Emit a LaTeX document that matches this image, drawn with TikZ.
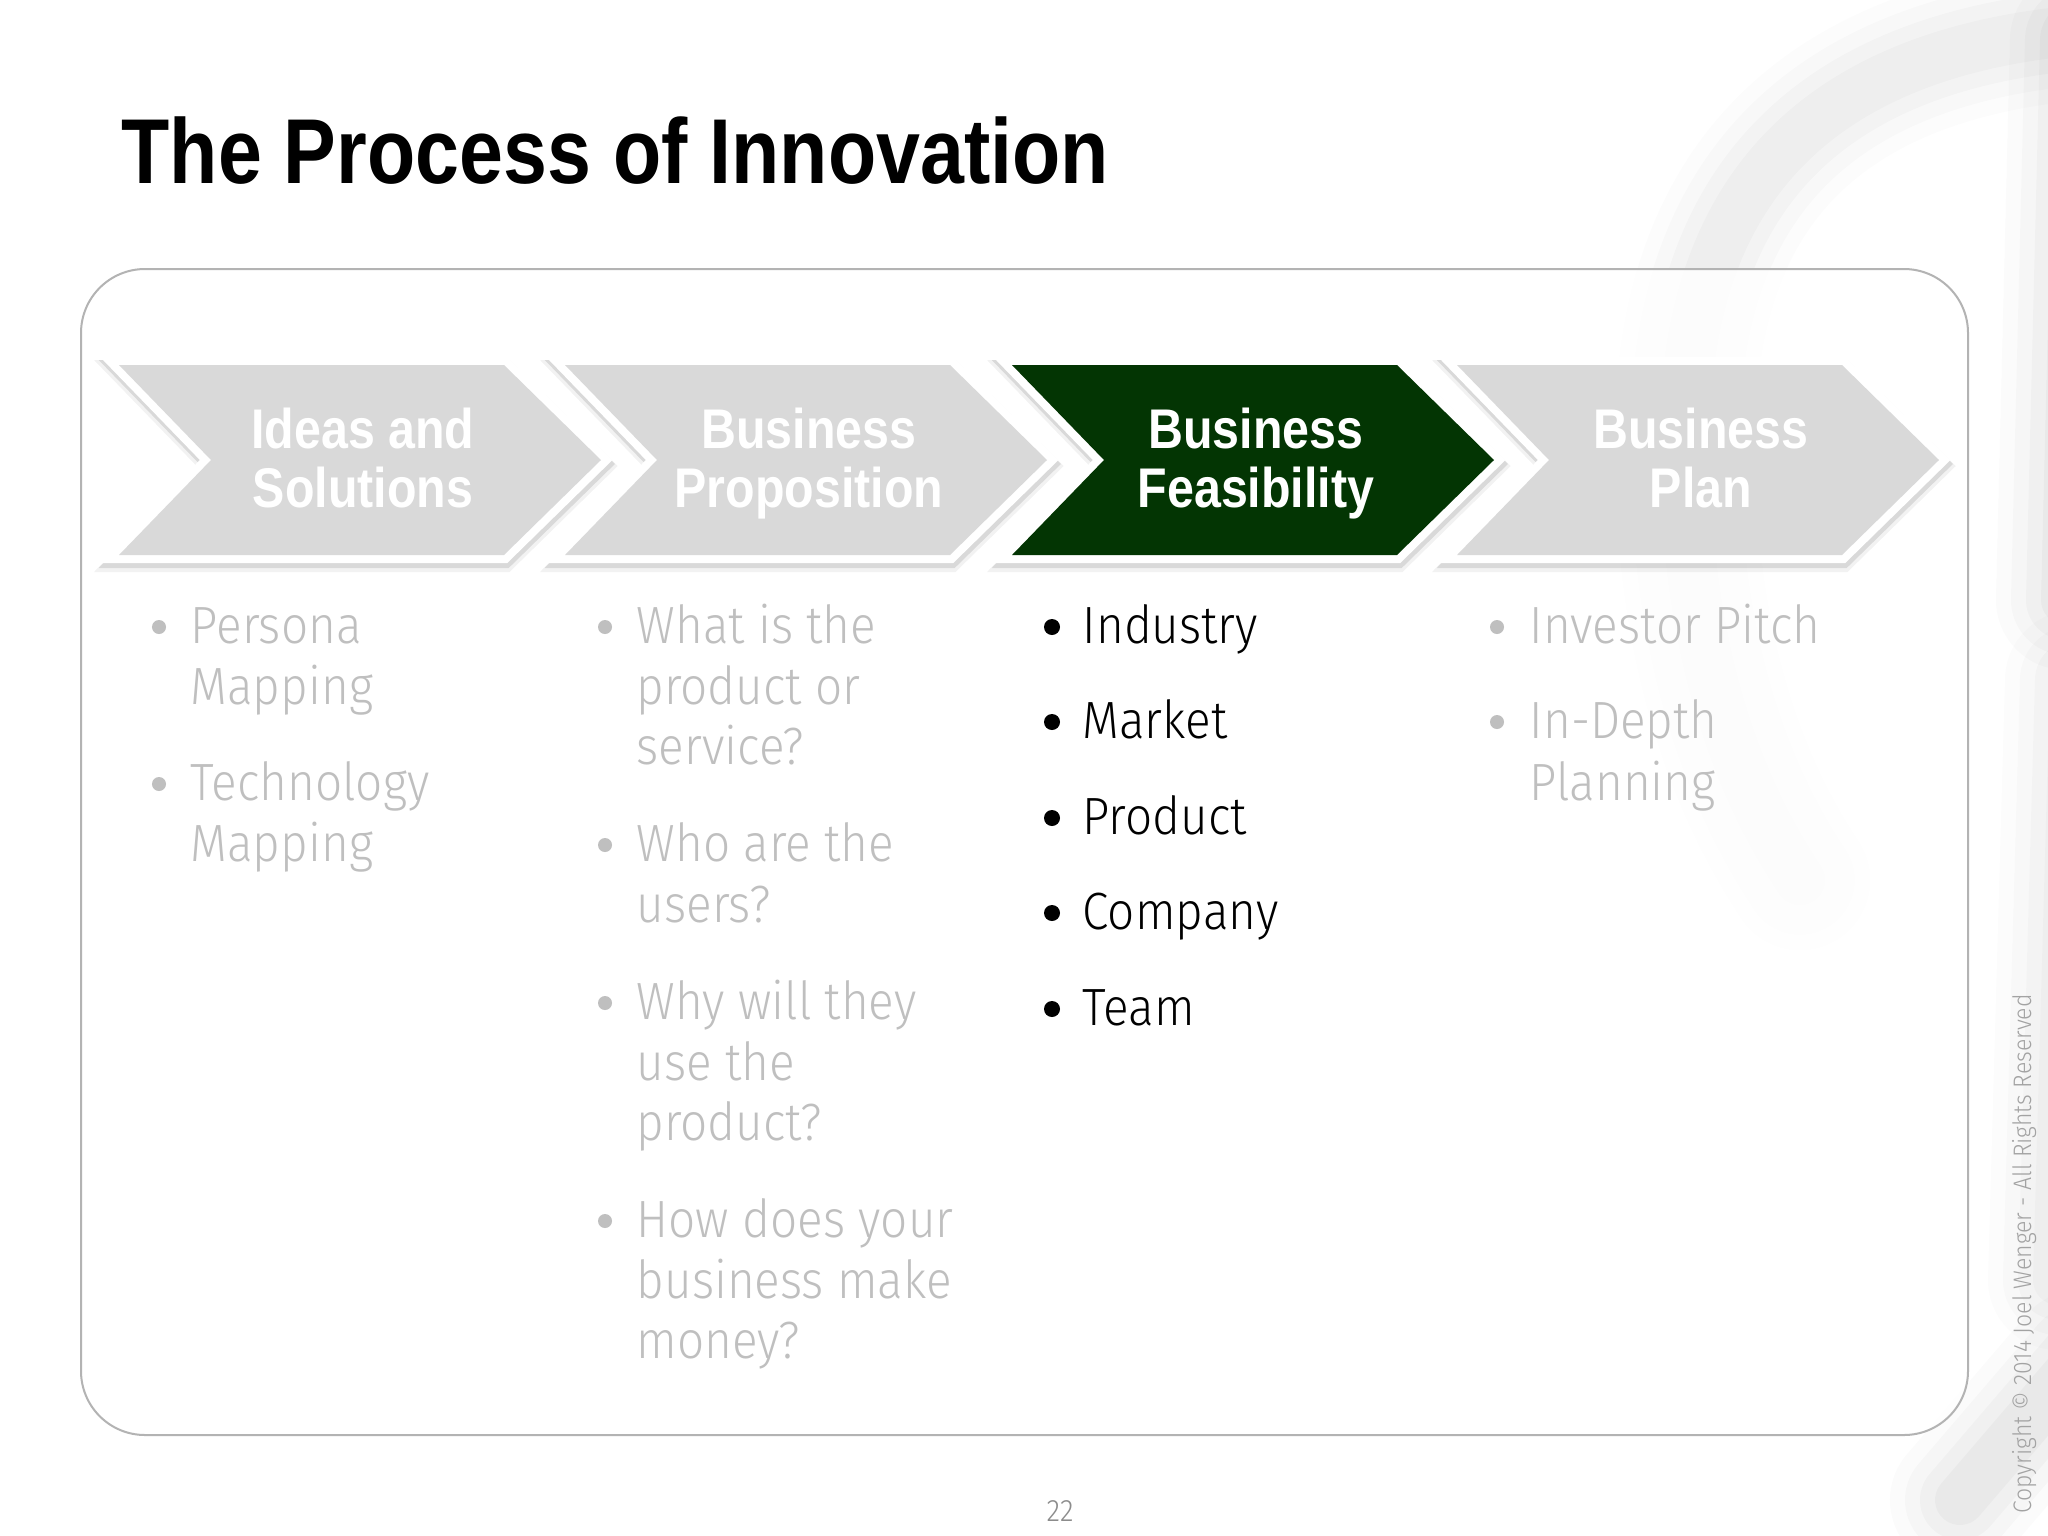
\documentclass[tikz,border=0pt]{standalone}
\usepackage{fontspec}
\setmainfont{Liberation Sans}
\IfFontExistsTF{Fira Sans Light}{%
  \newfontfamily\bodyfont{Fira Sans Light}[FakeStretch=0.91]\def\bodyfs{14.9}}{%
  \newfontfamily\bodyfont{Liberation Sans}[FakeStretch=0.93]\def\bodyfs{14.3}}
\newfontfamily\titlefont{Liberation Sans}[FakeStretch=0.857]
\newfontfamily\chevfont{Liberation Sans}[FakeStretch=0.865]
\definecolor{chevgray}{HTML}{D9D9D9}
\definecolor{chevgreen}{RGB}{3,53,3}
\definecolor{lighttext}{HTML}{BFBFBF}
\definecolor{boxline}{HTML}{B3B3B3}
\definecolor{pagenum}{HTML}{8C8C8C}
\tikzset{
  body/.style={anchor=base west, inner sep=0pt, font=\bodyfont\fontsize{\bodyfs pt}{17pt}\selectfont},
  lightline/.style={body, text=lighttext},
  darkline/.style={body, text=black},
  chevtext/.style={anchor=base, inner sep=0pt, text=white, font=\chevfont\bfseries\fontsize{15.9pt}{17pt}\selectfont},
  bul/.style={circle, inner sep=0pt, minimum size=1.4mm, fill=lighttext, draw=none},
  darkbul/.style={circle, inner sep=0pt, minimum size=1.6mm, fill=black, draw=none},
  softband/.style={black, line cap=round, line join=round},
}
\begin{document}
\begin{tikzpicture}[x=0.01cm,y=-0.01cm]
\useasboundingbox (0,0) rectangle (2048,1536);
\fill[white] (0,0) rectangle (2048,1536);

% faint background light-bulb shapes
\foreach \w/\o in {1.4cm/0.012,1.1cm/0.015,0.8cm/0.018,0.5cm/0.02}{
  \draw[softband, line width=\w, opacity=\o] (2080,30) .. controls (1850,50) and (1700,160) .. (1686,400) .. controls (1678,600) and (1720,760) .. (1800,880);
  \draw[softband, line width=\w, opacity=1.3*\o] (2080,40) -- (2066,600);
  \draw[softband, line width=\w, opacity=\o] (2075,680) -- (2058,1280);
  \draw[softband, line width=\w, opacity=1.3*\o] (1960,1500) -- (2080,1360);
}

% main rounded box
\draw[boxline, line width=0.2mm, fill=white, fill opacity=0.85, rounded corners=6.4mm] (81,269) rectangle (1968,1435);

% title
\node[anchor=base west, inner sep=0pt, font=\titlefont\bfseries\fontsize{26.2pt}{30pt}\selectfont] (title) at (121,183) {The Process of Innovation};

% chevrons
\foreach \i/\L/\fc/\ta/\tb in {1/119/chevgray/Ideas and/Solutions, 2/565/chevgray/Business/Proposition, 3/1012/chevgreen/Business/Feasibility, 4/1457/chevgray/Business/Plan}{
  \draw[black, fill=black, line width=2.2mm, line join=miter, opacity=0.05, shift={(1,6)}]
    (\L,365) -- ++(385,0) -- ++(97,95) -- ++(-97,95) -- ++(-385,0) -- ++(92,-95) -- cycle;
  \draw[black, fill=black, line width=1.8mm, line join=miter, opacity=0.10, shift={(1,4)}]
    (\L,365) -- ++(385,0) -- ++(97,95) -- ++(-97,95) -- ++(-385,0) -- ++(92,-95) -- cycle;
  \draw[white, fill=white, line width=1.6mm, line join=miter]
    (\L,365) -- ++(385,0) -- ++(97,95) -- ++(-97,95) -- ++(-385,0) -- ++(92,-95) -- cycle;
  \fill[\fc] (\L,365) -- ++(385,0) -- ++(97,95) -- ++(-97,95) -- ++(-385,0) -- ++(92,-95) -- cycle;
  \node[chevtext] (chev\i a) at (\L+244,448) {\ta};
  \node[chevtext] (chev\i b) at (\L+244,507) {\tb};
}

% column 1
\foreach \n/\y in {1/627,2/784}{\node[bul] (b1-\n) at (159,\y) {};}
\foreach \n/\y/\t in {1/643/Persona,2/704/Mapping,3/800/Technology,4/861/Mapping}{
  \node[lightline] (c1-\n) at (190,\y) {\t};}

% column 2
\foreach \n/\y in {1/627,2/845,3/1003,4/1221}{\node[bul] (b2-\n) at (605,\y) {};}
\foreach \n/\y/\t in {1/643/What is the,2/704/product or,3/764/service?,4/861/Who are the,5/922/users?,6/1019/Why will they,7/1080/use the,8/1140/product?,9/1237/How does your,10/1298/business make,11/1358/money?}{
  \node[lightline] (c2-\n) at (636,\y) {\t};}

% column 3
\foreach \n/\y in {1/627,2/722,3/818,4/913,5/1009}{\node[darkbul] (b3-\n) at (1052,\y) {};}
\foreach \n/\y/\t in {1/643/Industry,2/738/Market,3/834/Product,4/929/Company,5/1025/Team}{
  \node[darkline] (c3-\n) at (1082,\y) {\t};}

% column 4
\foreach \n/\y in {1/627,2/722}{\node[bul] (b4-\n) at (1497,\y) {};}
\foreach \n/\y/\t in {1/643/Investor Pitch,2/738/In-Depth,3/800/Planning}{
  \node[lightline] (c4-\n) at (1529,\y) {\t};}

% page number and copyright
\node[anchor=base, inner sep=0pt, text=pagenum, font=\bodyfont\fontsize{8.8pt}{10pt}\selectfont] (pnum) at (1060,1521) {22};
\node[anchor=base, rotate=90, inner sep=0pt, text=black!36, font=\bodyfont\fontsize{7.2pt}{9pt}\selectfont] (copy) at (2031,1254) {Copyright © 2014 Joel Wenger - All Rights Reserved};
\end{tikzpicture}
\end{document}
